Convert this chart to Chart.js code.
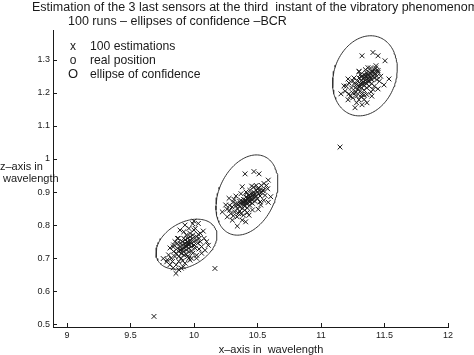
<!DOCTYPE html>
<html><head><meta charset="utf-8">
<script src="https://cdn.jsdelivr.net/npm/chart.js@4"></script>
<style>html,body{margin:0;padding:0;background:#fff}#c{display:block}</style>
</head><body>
<canvas id="c" width="474" height="355"></canvas>
<script>
const titleLines = [
  "Estimation of the 3 last sensors at the third  instant of the vibratory phenomenom",
  "100 runs \u2013 ellipses of confidence \u2013BCR"
];
const legendSymbols = ["x", "o", "O"];
const legendLabels = ["100 estimations", "real position", "ellipse of confidence"];
const xTitle = "x\u2013axis in  wavelength";
const yTitleLines = ["z\u2013axis in", "wavelength"];
const xTicks = [9, 9.5, 10, 10.5, 11, 11.5, 12];
const yTicks = [0.5, 0.6, 0.7, 0.8, 0.9, 1, 1.1, 1.2, 1.3];
const xTickLabels = ["9", "9.5", "10", "10.5", "11", "11.5", "12"];
const yTickLabels = ["0.5", "0.6", "0.7", "0.8", "0.9", "1", "1.1", "1.2", "1.3"];

// estimations, sensor 1 (lower left)
const cluster1 = [
 [9.929,0.800],[10.000,0.812],[10.034,0.805],[10.073,0.782],[10.034,0.772],[10.113,0.739],[10.087,0.724],[10.021,0.709],[9.969,0.694],[9.916,0.674],
 [9.858,0.654],[9.837,0.671],[9.785,0.689],[9.758,0.699],[9.811,0.731],[9.837,0.734],[9.876,0.760],[9.969,0.775],[9.990,0.804],[9.890,0.785],
 [9.90,0.725],[9.92,0.730],[9.94,0.735],[9.96,0.740],[9.98,0.745],[10.00,0.750],[10.02,0.755],[9.95,0.750],[9.93,0.745],[9.91,0.740],
 [9.89,0.735],[9.88,0.720],[9.90,0.715],[9.92,0.720],[9.94,0.725],[9.96,0.730],[9.98,0.735],[10.00,0.740],[9.97,0.755],[9.99,0.760],
 [9.95,0.760],[9.93,0.755],[9.91,0.750],[9.89,0.745],[9.87,0.730],[9.86,0.715],[9.88,0.705],[9.92,0.710],[9.96,0.720],[10.01,0.730],
 [9.94,0.712],[9.98,0.722],[10.03,0.745],[10.04,0.760],[9.97,0.765],[9.92,0.760],[9.90,0.700],[9.85,0.705],[9.95,0.705],[9.99,0.715],
 [9.93,0.738],[9.95,0.742],[9.97,0.748],[9.91,0.728],[9.89,0.725],[10.02,0.765],[9.94,0.770],[9.87,0.745],[10.05,0.750],[9.96,0.700],
 [9.84,0.720],[9.82,0.700],[9.80,0.710],[9.83,0.690],[9.86,0.680],[9.88,0.690],[9.90,0.670],[9.93,0.685],[9.98,0.700],[10.06,0.735],
 [10.08,0.760],[10.05,0.775],[10.00,0.785],[9.96,0.790],[9.87,0.760],[9.85,0.750],[10.10,0.750],[9.91,0.692],[9.88,0.665],[9.81,0.680],
 [9.79,0.695],[10.06,0.715],[10.02,0.700],[9.92,0.780],[9.99,0.770],[10.04,0.728],[9.84,0.740],[10.165,0.669],[9.685,0.524],[10.01,0.790]
];
// estimations, sensor 2 (middle)
const cluster2 = [
 [10.402,0.955],[10.472,0.962],[10.512,0.955],[10.585,0.936],[10.551,0.926],[10.454,0.918],[10.380,0.916],[10.604,0.886],[10.585,0.869],[10.525,0.861],
 [10.506,0.848],[10.276,0.881],[10.315,0.878],[10.250,0.861],[10.223,0.840],[10.281,0.845],[10.328,0.858],[10.262,0.825],[10.302,0.815],[10.380,0.815],
 [10.341,0.797],[10.407,0.810],[10.368,0.835],[10.433,0.830],
 [10.38,0.870],[10.40,0.875],[10.42,0.880],[10.44,0.885],[10.46,0.890],[10.48,0.895],[10.50,0.900],[10.52,0.905],[10.51,0.895],[10.49,0.888],
 [10.47,0.882],[10.45,0.878],[10.43,0.872],[10.41,0.866],[10.39,0.860],[10.37,0.865],[10.36,0.855],[10.38,0.850],[10.40,0.858],[10.42,0.864],
 [10.44,0.870],[10.46,0.876],[10.48,0.884],[10.50,0.910],[10.53,0.898],[10.45,0.895],[10.43,0.890],[10.41,0.885],[10.39,0.878],[10.37,0.875],
 [10.44,0.860],[10.42,0.852],[10.46,0.866],[10.48,0.872],[10.40,0.845],[10.47,0.900],[10.49,0.905],[10.51,0.912],[10.35,0.862],[10.36,0.872],
 [10.43,0.880],[10.45,0.886],[10.47,0.892],[10.41,0.873],[10.39,0.868],[10.52,0.888],[10.54,0.905],[10.50,0.880],[10.34,0.850],[10.33,0.865],
 [10.30,0.855],[10.32,0.840],[10.35,0.835],[10.29,0.835],[10.31,0.870],[10.55,0.905],[10.56,0.890],[10.53,0.920],[10.49,0.920],[10.47,0.915],
 [10.55,0.875],[10.37,0.895],[10.34,0.825],[10.39,0.830],[10.42,0.838],[10.58,0.910],[10.28,0.860],[10.26,0.848],[10.46,0.846],[10.31,0.828],
 [10.52,0.870],[10.44,0.905],[10.36,0.842],[10.57,0.920],[10.41,0.900],[10.33,0.888]
];
// estimations, sensor 3 (upper right)
const cluster3 = [
 [11.323,1.312],[11.409,1.322],[11.449,1.312],[11.504,1.297],[11.433,1.282],[11.370,1.276],[11.299,1.264],[11.449,1.267],[11.535,1.242],[11.496,1.224],
 [11.449,1.212],[11.394,1.203],[11.213,1.242],[11.250,1.236],[11.181,1.221],[11.157,1.197],[11.220,1.197],[11.276,1.203],[11.213,1.179],[11.299,1.179],
 [11.339,1.194],[11.323,1.164],[11.268,1.155],[11.362,1.170],[11.315,1.188],[11.250,1.185],
 [11.30,1.245],[11.32,1.250],[11.34,1.255],[11.36,1.260],[11.38,1.262],[11.40,1.265],[11.42,1.270],[11.44,1.268],[11.43,1.258],[11.41,1.252],
 [11.39,1.248],[11.37,1.243],[11.35,1.238],[11.33,1.232],[11.31,1.228],[11.29,1.235],[11.28,1.225],[11.30,1.218],[11.32,1.215],[11.34,1.222],
 [11.36,1.228],[11.38,1.235],[11.40,1.240],[11.42,1.245],[11.44,1.250],[11.36,1.215],[11.34,1.208],[11.31,1.205],[11.38,1.220],[11.40,1.228],
 [11.35,1.250],[11.37,1.255],[11.33,1.243],[11.39,1.258],[11.41,1.262],[11.43,1.275],[11.45,1.262],[11.27,1.215],[11.29,1.210],[11.35,1.230],
 [11.37,1.235],[11.32,1.238],[11.34,1.246],[11.36,1.248],[11.38,1.250],[11.30,1.222],[11.42,1.255],[11.26,1.228],[11.33,1.226],[11.39,1.242],
 [11.25,1.200],[11.28,1.190],[11.42,1.220],[11.46,1.235],[11.30,1.265],[11.26,1.245],[11.47,1.250],[11.32,1.195],[11.36,1.195],[11.41,1.210],
 [11.24,1.215],[11.20,1.220],[11.19,1.205],[11.23,1.190],[11.28,1.170],[11.35,1.270],[11.39,1.275],[11.31,1.255],[11.44,1.240],[11.27,1.200],
 [11.40,1.190],[11.34,1.180],[11.22,1.230],[11.150,1.036]
];
// real positions (centres of the ellipses)
const realPositions = [[9.941,0.742],[10.417,0.891],[11.346,1.252]];
// confidence ellipses: centre and two conjugate semi-axis vectors (data units)
const ellipseCenters = [[9.941,0.7424],[10.417,0.891],[11.346,1.2515]];
const ellipseAxisA = [[0.2243,0.0498],[0.1405,0.1159],[0.1104,0.1168]];
const ellipseAxisB = [[-0.0854,0.0569],[-0.1998,0.0359],[-0.2294,0.0321]];

const FONT = "'Liberation Sans', Arial, Helvetica, sans-serif";
const INK = '#1a1a1a';

function ellipseOutline(c, a, b) {
  const pts = [];
  const n = 120;
  for (let i = 0; i <= n; i++) {
    const t = 2 * Math.PI * i / n;
    pts.push({x: c[0] + Math.cos(t) * a[0] + Math.sin(t) * b[0],
              y: c[1] + Math.cos(t) * a[1] + Math.sin(t) * b[1]});
  }
  return pts;
}
const toPts = arr => arr.map(p => ({x: p[0], y: p[1]}));

const datasets = [];
[cluster1, cluster2, cluster3].forEach(cl => {
  datasets.push({
    label: legendLabels[0], data: toPts(cl), showLine: false,
    pointStyle: 'crossRot', pointRadius: 3.4, pointHoverRadius: 3.4,
    borderColor: INK, backgroundColor: 'transparent', pointBorderWidth: 1
  });
});
datasets.push({
  label: legendLabels[1], data: toPts(realPositions), showLine: false,
  pointStyle: 'circle', pointRadius: 2, borderColor: INK,
  backgroundColor: 'transparent', pointBorderWidth: 0.9, order: 5
});
ellipseCenters.forEach((c, i) => {
  datasets.push({
    label: legendLabels[2], type: 'line', data: ellipseOutline(c, ellipseAxisA[i], ellipseAxisB[i]),
    showLine: true, pointRadius: 0, borderColor: '#333', borderWidth: 1, fill: false, tension: 0
  });
});

const decorPlugin = {
  id: 'decor',
  afterDraw(chart) {
    const ctx = chart.ctx;
    const xs = chart.scales.x, ys = chart.scales.y;
    const ca = chart.chartArea;
    ctx.save();
    // inward tick marks
    ctx.strokeStyle = INK; ctx.lineWidth = 1;
    ctx.beginPath();
    xTicks.forEach(v => {
      const px = Math.round(xs.getPixelForValue(v)) + 0.5;
      ctx.moveTo(px, ca.bottom); ctx.lineTo(px, ca.bottom - 4);
    });
    yTicks.forEach(v => {
      const py = Math.round(ys.getPixelForValue(v)) + 0.5;
      ctx.moveTo(ca.left, py); ctx.lineTo(ca.left + 4, py);
    });
    ctx.stroke();
    ctx.fillStyle = INK;
    ctx.textBaseline = 'alphabetic';
    ctx.textAlign = 'left';
    // title
    ctx.font = '12.5px ' + FONT;
    ctx.fillText(titleLines[0], 32, 11);
    ctx.fillText(titleLines[1], 68, 25);
    // legend
    const lb = [50, 64, 78];
    legendSymbols.forEach((s, i) => {
      ctx.font = (i === 2 ? '13px ' : '12px ') + FONT;
      ctx.textAlign = 'center';
      ctx.fillText(s, 73, lb[i]);
      ctx.font = '12.2px ' + FONT;
      ctx.textAlign = 'left';
      ctx.fillText(legendLabels[i], 90, lb[i]);
    });
    // axis titles
    ctx.font = '11px ' + FONT;
    ctx.textAlign = 'center';
    ctx.fillText(xTitle, 271, 353);
    ctx.textAlign = 'left';
    ctx.fillText(yTitleLines[0], 0, 170);
    ctx.fillText(yTitleLines[1], 3, 182);
    ctx.restore();
  }
};

new Chart(document.getElementById('c'), {
  type: 'scatter',
  data: { datasets },
  options: {
    responsive: false, animation: false, devicePixelRatio: 1,
    layout: { padding: { left: 0, top: 30, right: 26, bottom: 0 } },
    plugins: { legend: { display: false }, title: { display: false }, tooltip: { enabled: false } },
    events: [],
    scales: {
      x: {
        type: 'linear', min: 8.89, max: 12,
        afterBuildTicks: s => { s.ticks = xTicks.map(v => ({ value: v })); },
        afterFit: s => { s.height = 28; },
        ticks: { font: { size: 9, family: FONT }, color: INK, padding: 3,
                 callback: (v) => xTickLabels[xTicks.indexOf(v)] },
        grid: { drawOnChartArea: false, drawTicks: false },
        border: { display: true, color: INK, width: 1 }
      },
      y: {
        type: 'linear', min: 0.492, max: 1.39,
        afterBuildTicks: s => { s.ticks = yTicks.map(v => ({ value: v })); },
        afterFit: s => { s.width = 53; },
        ticks: { font: { size: 9, family: FONT }, color: INK, padding: 3,
                 callback: (v) => yTickLabels[yTicks.indexOf(v)] },
        grid: { drawOnChartArea: false, drawTicks: false },
        border: { display: true, color: INK, width: 1 }
      }
    }
  },
  plugins: [decorPlugin]
});
</script>
</body></html>
